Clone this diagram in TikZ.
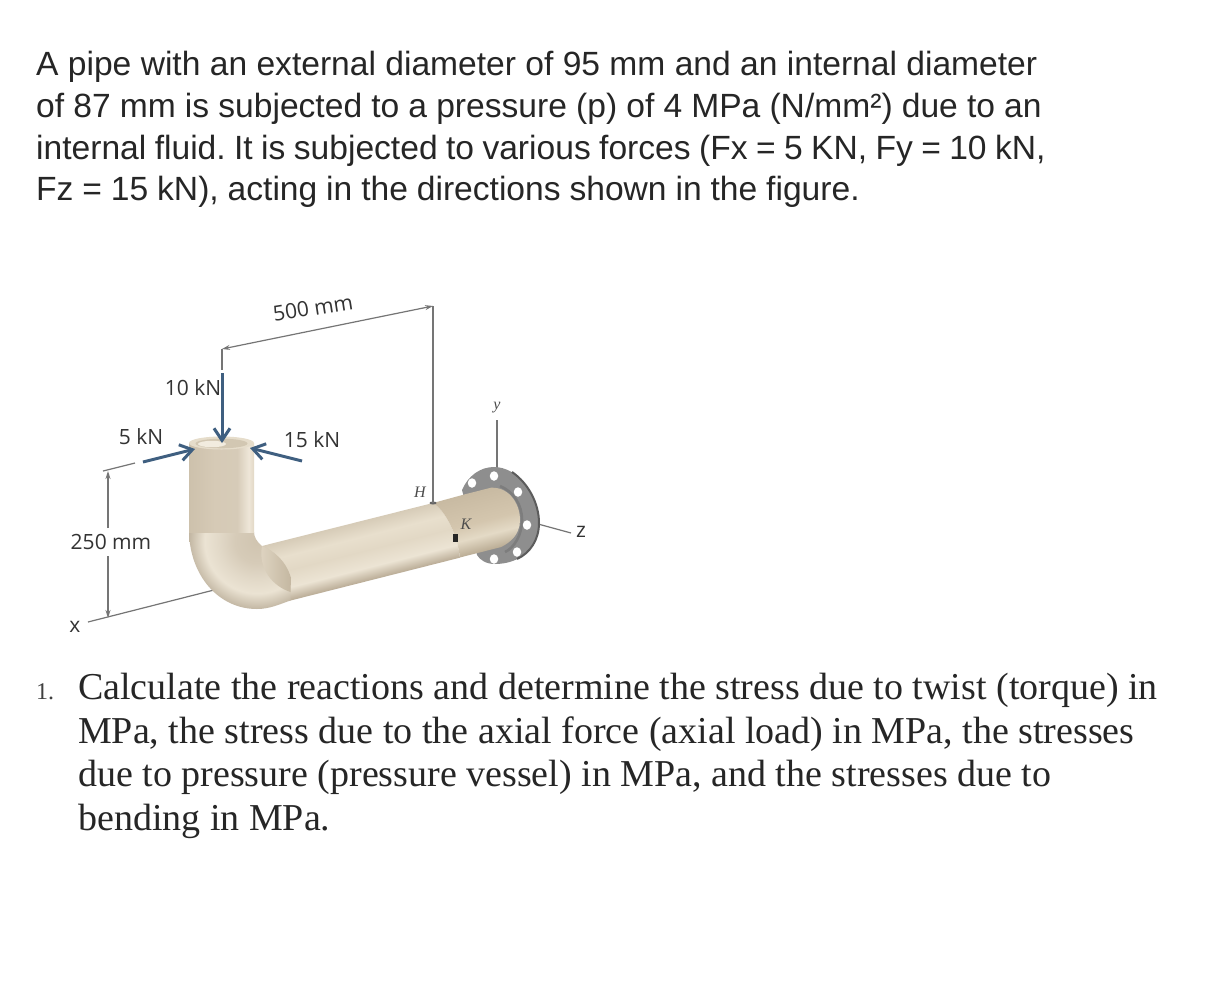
\documentclass[tikz,border=0pt]{standalone}
\usepackage{fontspec}
\setmainfont{Liberation Sans}
\newfontfamily\serifface{Liberation Serif}
\newfontfamily\labelface{Open Sans}
\usetikzlibrary{arrows.meta,shapes.geometric}
\definecolor{dimgray}{HTML}{757575}
\definecolor{forceblue}{HTML}{3F5F80}
\definecolor{flangegray}{HTML}{8E8E8E}
\definecolor{flangedark}{HTML}{5C5C5C}
\definecolor{rimtan}{HTML}{E6DDCB}
\definecolor{boretan}{HTML}{D2C7B2}
\definecolor{borelight}{HTML}{F2ECDF}
\definecolor{cresA}{HTML}{E0D6C3}
\definecolor{cresB}{HTML}{C4B7A1}
\definecolor{rA1}{RGB}{185,171,149}
\definecolor{rA2}{RGB}{236,228,212}
\definecolor{rA3}{RGB}{226,216,197}
\definecolor{rA4}{RGB}{232,223,205}
\definecolor{rA5}{RGB}{214,203,183}
\definecolor{rB1}{RGB}{186,172,148}
\definecolor{rB2}{RGB}{228,218,198}
\definecolor{rB3}{RGB}{212,198,174}
\definecolor{rB4}{RGB}{200,186,162}
\definecolor{lg1}{RGB}{205,193,172}
\definecolor{lg2}{RGB}{214,202,182}
\definecolor{lg3}{RGB}{214,203,184}
\definecolor{lg4}{RGB}{238,230,216}
\definecolor{lg5}{RGB}{226,216,198}
\definecolor{eb1}{RGB}{208,196,176}
\definecolor{eb2}{RGB}{214,203,184}
\definecolor{eb3}{RGB}{226,217,200}
\definecolor{eb4}{RGB}{235,227,211}
\definecolor{eb5}{RGB}{192,180,160}
\pgfdeclareverticalshading{runA}{100bp}{color(0bp)=(rA1); color(25bp)=(rA1); color(36bp)=(rA2); color(50bp)=(rA3); color(62bp)=(rA4); color(75bp)=(rA5); color(100bp)=(rA5)}
\pgfdeclareverticalshading{runB}{100bp}{color(0bp)=(rB1); color(25bp)=(rB1); color(38bp)=(rB2); color(50bp)=(rB3); color(75bp)=(rB4); color(100bp)=(rB4)}
\pgfdeclarehorizontalshading{legshade}{100bp}{color(0bp)=(lg1); color(25bp)=(lg1); color(45bp)=(lg2); color(62bp)=(lg3); color(71bp)=(lg4); color(75bp)=(lg5); color(100bp)=(lg5)}
\pgfdeclareradialshading{elbowshade}{\pgfpoint{0bp}{0bp}}{color(0bp)=(eb1); color(8bp)=(eb2); color(14bp)=(eb3); color(19bp)=(eb4); color(25bp)=(eb5); color(50bp)=(eb5)}
\tikzset{
 bodytext/.style={anchor=base west,inner sep=0pt,font=\fontsize{33.6pt}{33.6pt}\selectfont\frenchspacing,text=black!85},
 serifline/.style={anchor=base west,inner sep=0pt,font=\serifface\fontsize{38pt}{38pt}\selectfont\frenchspacing,text=black!85},
 dimlabel/.style={inner sep=0pt,font=\labelface\fontsize{21pt}{21pt}\selectfont,text=black!80},
 dimline/.style={draw=dimgray,line width=1.2pt},
 dimarrow/.style={dimline,-{Stealth[length=8pt,width=5pt]}},
 force/.style={draw=forceblue,line width=3pt,-{Straight Barb[length=12pt,width=16pt,line width=3pt]}},
 hole/.style={fill=white,draw=none,ellipse,inner sep=0pt,minimum width=8.5pt,minimum height=9.5pt},
 marklabel/.style={inner sep=0pt,font=\serifface\itshape\fontsize{16pt}{16pt}\selectfont,text=black!70},
}
\begin{document}
\begin{tikzpicture}[x=1pt,y=-1pt]
\useasboundingbox (0,0) rectangle (1218,999);
\fill[white] (0,0) rectangle (1218,999);
% statement
\node[bodytext] (l1) at (36,75) {A pipe with an external diameter of 95 mm and an internal diameter};
\node[bodytext] (l2) at (36,117) {\spaceskip=0.272em of 87 mm is subjected to a pressure (p) of 4 MPa (N/mm²) due to an};
\node[bodytext] (l3) at (36,159) {\spaceskip=0.25em internal fluid. It is subjected to various forces (Fx = 5 KN, Fy = 10 kN,};
\node[bodytext] (l4) at (36,200) {\spaceskip=0.265em Fz = 15 kN), acting in the directions shown in the figure.};
% question
\node[anchor=base west,inner sep=0pt,font=\serifface\fontsize{24pt}{24pt}\selectfont,text=black!75] (num) at (36,699) {1.};
\node[serifline] (q1) at (78,699) {Calculate the reactions and determine the stress due to twist (torque) in};
\node[serifline] (q2) at (78,743) {MPa, the stress due to the axial force (axial load) in MPa, the stresses};
\node[serifline] (q3) at (78,786) {due to pressure (pressure vessel) in MPa, and the stresses due to};
\node[serifline] (q4) at (78,830) {bending in MPa.};
% coordinates
\coordinate (dimA) at (222,349);
\coordinate (dimB) at (433,306);
\coordinate (extA) at (222,370);
\coordinate (H) at (433,503);
\coordinate (F10a) at (222,373);
\coordinate (F10b) at (222,443);
\coordinate (F5a) at (143,462);
\coordinate (F5b) at (195,449);
\coordinate (F15a) at (302,461);
\coordinate (F15b) at (250,448);
\coordinate (e1) at (103,471);
\coordinate (e2) at (135,463);
\coordinate (d1) at (108,471);
\coordinate (d2) at (108,528);
\coordinate (d3) at (108,556);
\coordinate (d4) at (108,618);
\coordinate (xa) at (88,622);
\coordinate (xb) at (214,590);
\coordinate (ya) at (497,420);
\coordinate (yb) at (497,468);
\coordinate (za) at (538,524);
\coordinate (zb) at (571,533);
% axes behind the pipe
\draw[dimline] (xa) -- (xb);
\draw[dimline] (ya) -- (yb);
\draw[dimline] (za) -- (zb);
% flange
\fill[flangegray] (462,490) .. controls (468,476) and (480,467) .. (494,467)
 .. controls (518,467) and (539,495) .. (539,523)
 .. controls (539,548) and (520,564) .. (495,564)
 .. controls (486,564) and (480,560) .. (477,555) -- (470,520) -- cycle;
\draw[flangedark,line width=2pt] (512,472) .. controls (528,483) and (539,503) .. (539,523) .. controls (539,540) and (530,553) .. (517,559);
\draw[flangedark!80,line width=2.6pt] (500,486) .. controls (514,492) and (522,505) .. (522,520) .. controls (522,535) and (514,548) .. (505,552);
% straight run before the seam
\begin{scope}
 \clip (262,546) -- (433,503) .. controls (445,510) and (458,535) .. (460,559) -- (290,601) -- cycle;
 \shade[shading=runA,transform canvas={rotate around={14.2:(360,552)}}] (180,522) rectangle (540,582);
\end{scope}
% straight run after the seam
\begin{scope}
 \clip (433,503) -- (488,488) .. controls (508,485) and (520,503) .. (520,520)
  .. controls (520,535) and (510,548) .. (477,555) -- (460,559) .. controls (458,535) and (445,510) .. (433,503) -- cycle;
 \shade[shading=runB,transform canvas={rotate around={14.2:(470,525)}}] (380,494) rectangle (560,554);
\end{scope}
% elbow
\begin{scope}
 \clip (189,532) .. controls (190,575) and (218,609) .. (257,609) .. controls (270,609) and (280,604) .. (290.5,600.5)
  -- (291,578) .. controls (286,560) and (272,550) .. (262,546) .. controls (257,542) and (254,537) .. (254,532) -- cycle;
 \shade[shading=elbowshade] (257,541) circle (69);
 \shade[left color=cresA,right color=cresB] (262,546) .. controls (272,550) and (286,560) .. (291,578)
  -- (290.5,592) .. controls (272,586) and (258,568) .. cycle;
\end{scope}
% vertical leg
\path[shading=legshade] (189,443) -- (189,532) -- (254,532) -- (254,443) -- cycle;
\fill[rimtan] (221.5,443) ellipse [x radius=32.5,y radius=6.5];
\fill[boretan] (221.5,443.5) ellipse [x radius=26,y radius=4.8];
\fill[borelight] (212,444) ellipse [x radius=14,y radius=3.2];
% holes
\node[hole] (h1) at (494,476) {};
\node[hole] (h2) at (472,483) {};
\node[hole] (h3) at (518,492) {};
\node[hole] (h4) at (527,525) {};
\node[hole] (h5) at (517,552) {};
\node[hole] (h6) at (494,559) {};
% marks
\fill[black!85] (453,534) rectangle (457.5,542);
\fill[black!60] (433,503) ellipse [x radius=3.5,y radius=1.5];
% dimensions
\draw[dimline,{Stealth[length=8pt,width=5pt]}-{Stealth[length=8pt,width=5pt]}] (dimA) -- (dimB);
\draw[dimline] (dimA) -- (extA);
\draw[dimline] (dimB) -- (H);
\draw[dimline] (e1) -- (e2);
\draw[dimarrow] (d2) -- (d1);
\draw[dimarrow] (d3) -- (d4);
% forces
\draw[force] (F10a) -- (F10b);
\draw[force] (F5a) -- (F5b);
\draw[force] (F15a) -- (F15b);
% labels
\node[dimlabel,rotate=9] (t500) at (313,308) {500 mm};
\node[dimlabel] (t10) at (193,388) {10 kN};
\node[dimlabel] (t5) at (141,437) {5 kN};
\node[dimlabel] (t15) at (312,440) {15 kN};
\node[dimlabel] (t250) at (111,542) {250 mm};
\node[dimlabel] (tx) at (75,627) {x};
\node[dimlabel] (tz) at (581,532) {z};
\node[marklabel] (ty) at (497,408) {y};
\node[marklabel] (tH) at (420,492) {H};
\node[marklabel] (tK) at (466,524) {K};
\end{tikzpicture}
\end{document}
